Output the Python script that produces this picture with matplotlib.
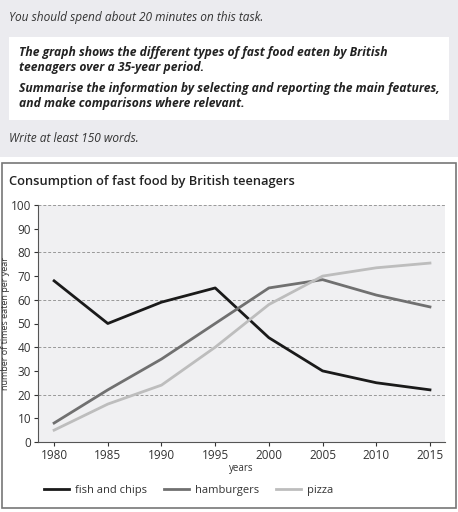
import matplotlib.pyplot as plt
from matplotlib.patches import Rectangle

years = [1980, 1985, 1990, 1995, 2000, 2005, 2010, 2015]
fish_and_chips = [68, 50, 59, 65, 44, 30, 25, 22]
hamburgers = [8, 22, 35, 50, 65, 68.5, 62, 57]
pizza = [5, 16, 24, 40, 58, 70, 73.5, 75.5]

plt.rcParams['font.family'] = ['Open Sans', 'DejaVu Sans']

fig = plt.figure(figsize=(4.58, 5.12), dpi=100)
W, H = 458, 512

def box(x, y, w, h, **kw):
    fig.patches.append(Rectangle((x / W, 1 - (y + h) / H), w / W, h / H,
                                 transform=fig.transFigure, zorder=-5, **kw))

# task panel
box(0, 0, 458, 157, facecolor='#ebebef', edgecolor='none')
box(9, 37, 440, 83, facecolor='white', edgecolor='none')
box(2, 163, 454, 345, facecolor='white', edgecolor='#777777', linewidth=1.2)

fig.text(9 / W, 1 - 18 / H, 'You should spend about 20 minutes on this task.',
         fontsize=8.6, style='italic', color='#333333', va='center')
fig.text(19 / W, 1 - 60 / H, 'The graph shows the different types of fast food eaten by British\n'
         'teenagers over a 35-year period.', fontsize=8.7, style='italic',
         weight='bold', color='#222222', va='center', linespacing=1.2)
fig.text(19 / W, 1 - 96 / H, 'Summarise the information by selecting and reporting the main features,\n'
         'and make comparisons where relevant.', fontsize=8.7, style='italic',
         weight='bold', color='#222222', va='center', linespacing=1.2)
fig.text(9 / W, 1 - 138 / H, 'Write at least 150 words.', fontsize=8.6,
         style='italic', color='#333333', va='center')
fig.text(9 / W, 1 - 182 / H, 'Consumption of fast food by British teenagers',
         fontsize=9.3, weight='semibold', color='#222222', va='center')

ax = fig.add_axes([38 / W, 1 - 442 / H, 407 / W, 237 / H])
ax.set_facecolor('#f0f0f2')
ax.plot(years, fish_and_chips, color='#1a1a1a', lw=2, label='fish and chips')
ax.plot(years, hamburgers, color='#707070', lw=2, label='hamburgers')
ax.plot(years, pizza, color='#bdbdbd', lw=2, label='pizza')
ax.set_xlim(1978.5, 2016.4)
ax.set_ylim(0, 100)
ax.set_xticks(years)
ax.set_yticks(range(0, 101, 10))
for v in range(20, 101, 20):
    ax.axhline(v, color='#999999', lw=0.7, ls=(0, (3, 2)), zorder=0)
for s in ['top', 'right']:
    ax.spines[s].set_visible(False)
for s in ['left', 'bottom']:
    ax.spines[s].set_color('#555555')
ax.tick_params(labelsize=8.5, colors='#333333', length=3, pad=2)
ax.set_xlabel('years', fontsize=7, color='#333333', labelpad=1)
ax.set_ylabel('number of times eaten per year', fontsize=6.5, color='#333333')
ax.yaxis.set_label_coords(-0.068, 0.5)
ax.legend(loc='upper left', bbox_to_anchor=(-0.01, -0.14), ncol=3, frameon=False,
          fontsize=8, handlelength=2.3, handletextpad=0.5, columnspacing=1.5,
          labelcolor='#333333')

fig.savefig('out.png', dpi=100)
